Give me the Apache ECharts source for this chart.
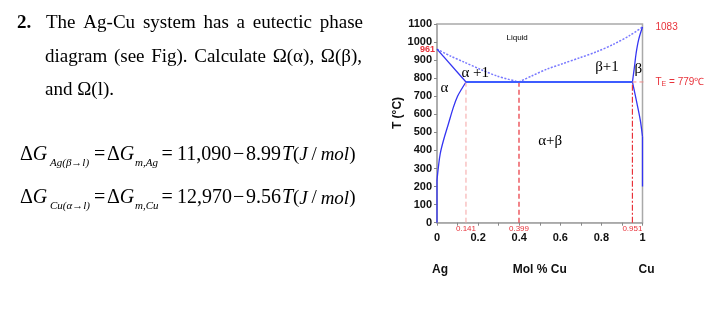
<!DOCTYPE html>
<html><head><meta charset="utf-8">
<script src="https://cdn.jsdelivr.net/npm/echarts@6/dist/echarts.min.js"></script>
<style>html,body{margin:0;padding:0;background:#fff}#c{width:727px;height:336px}</style>
</head><body><div id="c"></div>
<script>
// ---------- data ----------
const xTicks = [0, 0.2, 0.4, 0.6, 0.8, 1];
const yTicks = [0, 100, 200, 300, 400, 500, 600, 700, 800, 900, 1000, 1100];
const eutecticT = 779;
const meltAg = 961;
const meltCu = 1083;
const eutecticComps = [0.141, 0.399, 0.951];
const liquidusLeft = [[0, 961], [0.065, 923], [0.13, 890], [0.211, 849], [0.292, 812], [0.399, 779]];
const liquidusRight = [[0.399, 779], [0.46, 812], [0.535, 850], [0.616, 882], [0.697, 914], [0.778, 947], [0.859, 988], [0.94, 1038], [1, 1083]];
const solidusLeft = [[0, 961], [0.141, 779]];
const solvusLeft = [[0.141, 779], [0.12, 740], [0.1, 700], [0.08, 640], [0.055, 545], [0.032, 458], [0.016, 384], [0.007, 310], [0, 236]];
const wallLeft = [[0, 236], [0, 0]];
const solidusRight = [[1, 1083], [0.981, 1012], [0.969, 938], [0.961, 864], [0.951, 779]];
const solvusRight = [[0.951, 779], [0.973, 661], [0.989, 569], [1, 476]];
const wallRight = [[1, 476], [1, 200]];
const eutecticLine = [[0.141, 779], [0.951, 779]];
const eutecticGuideEnd = 1.06;

// ---------- chart ----------
const SANS = "'Liberation Sans', Arial, sans-serif";
const SERIF = "'Liberation Serif', 'Times New Roman', serif";
const chart = echarts.init(document.getElementById('c'), null, {renderer: 'canvas'});

function line(data, color, width, type, smooth, extra) {
  return Object.assign({
    type: 'line', data: data, showSymbol: false, smooth: smooth || 0, animation: false,
    lineStyle: {color: color, width: width, type: type || 'solid'}, silent: true, z: 3
  }, extra || {});
}
const BLUE = '#3434f2', DOT = '#7878ff';
const series = [
  line(liquidusLeft, DOT, 1.5, [2, 1.5], 0.3),
  line(liquidusRight, DOT, 1.5, [2, 1.5], 0.3),
  line(solidusLeft, BLUE, 1.3),
  line(solvusLeft, BLUE, 1.3, 'solid', 0.35),
  line(wallLeft, BLUE, 1.3),
  line(solidusRight, BLUE, 1.3, 'solid', 0.35),
  line(solvusRight, BLUE, 1.3, 'solid', 0.35),
  line(wallRight, BLUE, 1.3),
  line(eutecticLine, '#3d5cff', 2.2, 'solid', 0, {z: 4}),
  line([[eutecticComps[0], 0], [eutecticComps[0], eutecticT]], '#f5a3a3', 1, [5, 3]),
  line([[eutecticComps[1], 0], [eutecticComps[1], eutecticT]], '#e8323a', 1.2, [5, 3]),
  line([[eutecticComps[2], 0], [eutecticComps[2], eutecticT]], '#e8323a', 1.2, [6, 2, 2, 2]),
  line([[eutecticComps[2], eutecticT], [eutecticGuideEnd, eutecticT]], '#f08a8a', 1, [4, 3], 0, {clip: false})
];

chart.setOption({
  animation: false,
  grid: {left: 437, top: 24, right: 84.5, bottom: 113.3, show: true, borderColor: '#a9a9a9', borderWidth: 1.5},
  xAxis: [{
    type: 'value', min: xTicks[0], max: xTicks[xTicks.length - 1], interval: 0.2,
    axisLine: {show: true, lineStyle: {color: '#a9a9a9', width: 1.5}},
    axisTick: {show: true, length: 3, lineStyle: {color: '#888'}},
    minorTick: {show: true, splitNumber: 2, length: 3, lineStyle: {color: '#888'}},
    splitLine: {show: false},
    axisLabel: {color: '#111', fontFamily: SANS, fontWeight: 'bold', fontSize: 11, margin: 10, formatter: v => String(v)},
    name: 'Mol % Cu', nameLocation: 'middle', nameGap: 41,
    nameTextStyle: {color: '#111', fontFamily: SANS, fontWeight: 'bold', fontSize: 12}
  }, {
    type: 'value', min: 0, max: 1, position: 'bottom',
    axisLine: {show: false}, axisTick: {show: false}, splitLine: {show: false},
    axisLabel: {customValues: eutecticComps, color: '#e8323a', fontFamily: SANS, fontSize: 8, margin: 2,
      formatter: v => v.toFixed(3)}
  }],
  yAxis: [{
    type: 'value', min: yTicks[0], max: yTicks[yTicks.length - 1], interval: 100,
    axisLine: {show: true, lineStyle: {color: '#a9a9a9', width: 1.5}},
    axisTick: {show: true, length: 3, lineStyle: {color: '#888'}},
    splitLine: {show: false},
    axisLabel: {color: '#111', fontFamily: SANS, fontWeight: 'bold', fontSize: 11, margin: 5, formatter: v => String(v)}
  }, {
    type: 'value', min: 0, max: 1100, position: 'left',
    axisLine: {show: false}, axisTick: {show: false}, splitLine: {show: false},
    axisLabel: {customValues: [meltAg], color: '#e8323a', fontFamily: SANS, fontWeight: 'bold', fontSize: 9, margin: 2, formatter: v => String(v)}
  }, {
    type: 'value', min: 0, max: 1100, position: 'right',
    axisLine: {show: false}, axisTick: {show: false}, splitLine: {show: false},
    axisLabel: {customValues: [eutecticT, meltCu], color: '#e8323a', fontFamily: SANS, fontSize: 10, margin: 13,
      formatter: v => v === eutecticT ? '{a|T}{s|E}{a| = ' + v + '℃}' : String(v),
      rich: {a: {color: '#e8323a', fontFamily: SANS, fontSize: 10},
             s: {color: '#e8323a', fontFamily: SANS, fontSize: 7, padding: [5, 0, 0, 0]}}}
  }],
  series: series
});

// ---------- text helpers ----------
const mctx = document.createElement('canvas').getContext('2d');
function tw(text, font) { mctx.font = font; return mctx.measureText(text).width; }
function midOff(font) { mctx.font = font; mctx.textBaseline = 'alphabetic'; const m = mctx.measureText('M'); return (m.fontBoundingBoxAscent - m.fontBoundingBoxDescent) / 2; }
function txt(text, x, baseline, font, fill, align) {
  return {type: 'text', x: x, y: baseline - midOff(font), silent: true, z: 10,
    style: {text: text, font: font, fill: fill || '#000', textAlign: align || 'left', textVerticalAlign: 'middle', verticalAlign: 'middle'}};
}
function flow(pieces, x0, baseline) {
  const out = []; let x = x0;
  pieces.forEach(p => {
    if (p.x !== undefined) x = p.x;
    const b = p.b !== undefined ? p.b : baseline;
    out.push(txt(p.t, x, b, p.f));
    x += tw(p.t, p.f);
  });
  return out;
}
function justify(words, font, x0, x1, baseline) {
  const ws = words.map(w => tw(w, font));
  const total = ws.reduce((a, b) => a + b, 0);
  const gap = (x1 - x0 - total) / (words.length - 1);
  const out = []; let x = x0;
  words.forEach((w, i) => { out.push(txt(w, x, baseline, font)); x += ws[i] + gap; });
  return out;
}

const F = '19px ' + SERIF, FB = 'bold 19px ' + SERIF;
const E = '20px ' + SERIF, EI = 'italic 20px ' + SERIF, SI = 'italic 11px ' + SERIF;
const E2 = '19px ' + SERIF, EI2 = 'italic 19px ' + SERIF;
const g = [];
g.push(txt('2.', 17, 30, FB));
g.push(...justify('The Ag-Cu system has a eutectic phase'.split(' '), F, 46, 363, 30));
g.push(...justify('diagram (see Fig). Calculate Ω(α), Ω(β),'.split(' '), F, 45, 362, 64));
g.push(txt('and Ω(l).', 45, 97, F));

function eq(sub1, sub2, a, b, base) {
  const sb = base + 5.5;
  return flow([
    {t: 'Δ', f: E, x: 20}, {t: 'G', f: EI},
    {t: sub1, f: SI, x: 50, b: sb},
    {t: '=', f: E, x: 94}, {t: 'Δ', f: E, x: 107}, {t: 'G', f: EI},
    {t: sub2, f: SI, x: 135, b: sb},
    {t: '=', f: E, x: 161.5},
    {t: a, f: E, x: 177}, {t: '−', f: E, x: 233}, {t: b, f: E, x: 246},
    {t: 'T', f: EI, x: 282}, {t: '(', f: E2, x: 293}, {t: 'J', f: EI2}, {t: '\u2009/\u2009', f: E2}, {t: 'mol', f: EI2}, {t: ')', f: E2}
  ], 20, base);
}
g.push(...eq('Ag(β→l)', 'm,Ag', '11,090', '8.99', 161.5));
g.push(...eq('Cu(α→l)', 'm,Cu', '12,970', '9.56', 205));

// plot annotations anchored in data space
function P(x, t) { return chart.convertToPixel({xAxisIndex: 0, yAxisIndex: 0}, [x, t]); }
function ann(text, x, t, font, fill) {
  const p = P(x, t);
  return {type: 'text', x: p[0], y: p[1], silent: true, z: 10,
    style: {text: text, font: font, fill: fill || '#000', textAlign: 'center', textVerticalAlign: 'middle', verticalAlign: 'middle'}};
}
const LS = '15px ' + SERIF;
g.push(ann('Liquid', 0.39, 1021, '8px ' + SANS));
g.push(ann('α +1', 0.186, 827, LS));
g.push(ann('α', 0.036, 744, LS));
g.push(ann('β+1', 0.827, 864, LS));
g.push(ann('β', 0.98, 849, LS));
g.push(ann('α+β', 0.551, 454, LS));
const pa = P(0, 0), pc = P(1, 0);
g.push(txt('Ag', pa[0] + 3, 274, 'bold 12px ' + SANS, '#111', 'center'));
g.push(txt('Cu', pc[0] + 4, 274, 'bold 12px ' + SANS, '#111', 'center'));
g.push({type: 'text', x: 398, y: 113, rotation: Math.PI / 2, silent: true,
  style: {text: 'T (°C)', font: 'bold 12px ' + SANS, fill: '#111', textAlign: 'center', textVerticalAlign: 'middle', verticalAlign: 'middle'}});

chart.setOption({graphic: {elements: g}});
</script></body></html>
